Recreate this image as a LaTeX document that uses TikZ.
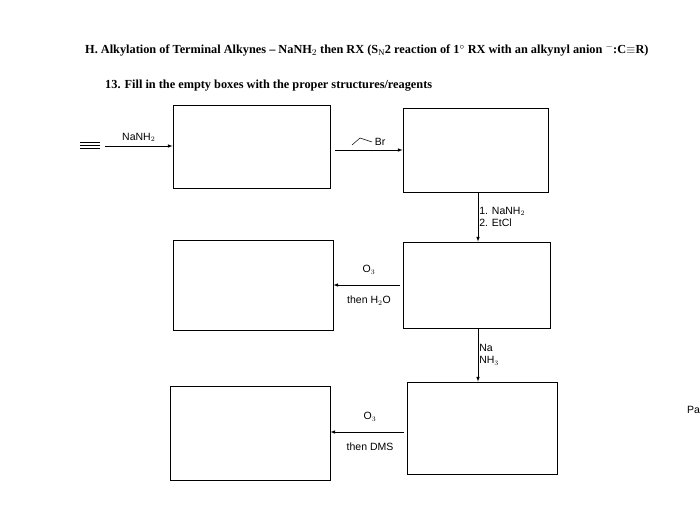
\documentclass[tikz,border=0pt]{standalone}
\usepackage{fontspec}
\setmainfont{Liberation Serif}
\newfontfamily\lsans{Liberation Sans}
\begin{document}
\begin{tikzpicture}[x=1pt,y=-1pt,
  box/.style={draw,line width=0.9pt,minimum width=#1,inner sep=0pt},
  rxn/.style={-latex,line width=0.6pt},
  lab/.style={font=\lsans\fontsize{10.5}{12}\selectfont,inner sep=1pt}]
\useasboundingbox[fill=white] (0,0) rectangle (700,525);
\node[anchor=west,font=\fontsize{12.3}{14}\selectfont\bfseries,inner sep=0pt] (t) at (85,50)
 {H. Alkylation of Terminal Alkynes -- NaNH$_2$ then RX (S$_\mathrm{N}$2 reaction of 1$^\circ$ RX with an alkynyl anion $^{-}$:C$\equiv$R)};
\node[anchor=west,font=\fontsize{12.3}{14}\selectfont\bfseries,inner sep=0pt] (s) at (105,86)
 {13. Fill in the empty boxes with the proper structures/reagents};
\node[box,minimum width=157pt,minimum height=83pt] (b1) at (251.5,146.5) {};
\node[box,minimum width=145pt,minimum height=84pt] (b2) at (475.5,150) {};
\node[box,minimum width=160pt,minimum height=90pt] (b3) at (253,285) {};
\node[box,minimum width=147pt,minimum height=86pt] (b4) at (476.5,285) {};
\node[box,minimum width=160pt,minimum height=94pt] (b5) at (250,433) {};
\node[box,minimum width=150pt,minimum height=92pt] (b6) at (482,428) {};
% alkyne
\draw[line width=0.5pt] (80,142.5) -- (100,142.5) (80,145.5) -- (100,145.5) (80,148.5) -- (100,148.5);
\coordinate (a0) at (105,146);
\draw[rxn] (a0) -- (b1.west|-a0) node[lab,midway,above=3pt] {NaNH$_2$};
\coordinate (a1) at (335,150);
\draw[rxn] (a1) -- (b2.west|-a1);
\node[lab] (br) at (380,142) {Br};
\draw[line width=0.5pt] (352,145) -- (360,138) -- (372,142);
\coordinate (a2) at (478,192);
\draw[rxn] (a2) -- (b4.north-|a2) node[lab,midway,right,align=left] {1. NaNH$_2$\\2. EtCl};
\coordinate (a3) at (400,285);
\draw[rxn] (a3) -- (b3.east|-a3);
\node[lab] (o1) at (369,270) {O$_3$};
\node[lab] (h1) at (369,301) {then H$_2$O};
\coordinate (a4) at (478,328);
\draw[rxn] (a4) -- (b6.north-|a4) node[lab,midway,right,align=left] {Na\\NH$_3$};
\coordinate (a5) at (404,432);
\draw[rxn] (a5) -- (b5.east|-a5);
\node[lab] (o2) at (370,417) {O$_3$};
\node[lab] (h2) at (370,447) {then DMS};
\node[lab,anchor=west] (pa) at (686,410) {Pa};
\end{tikzpicture}
\end{document}
